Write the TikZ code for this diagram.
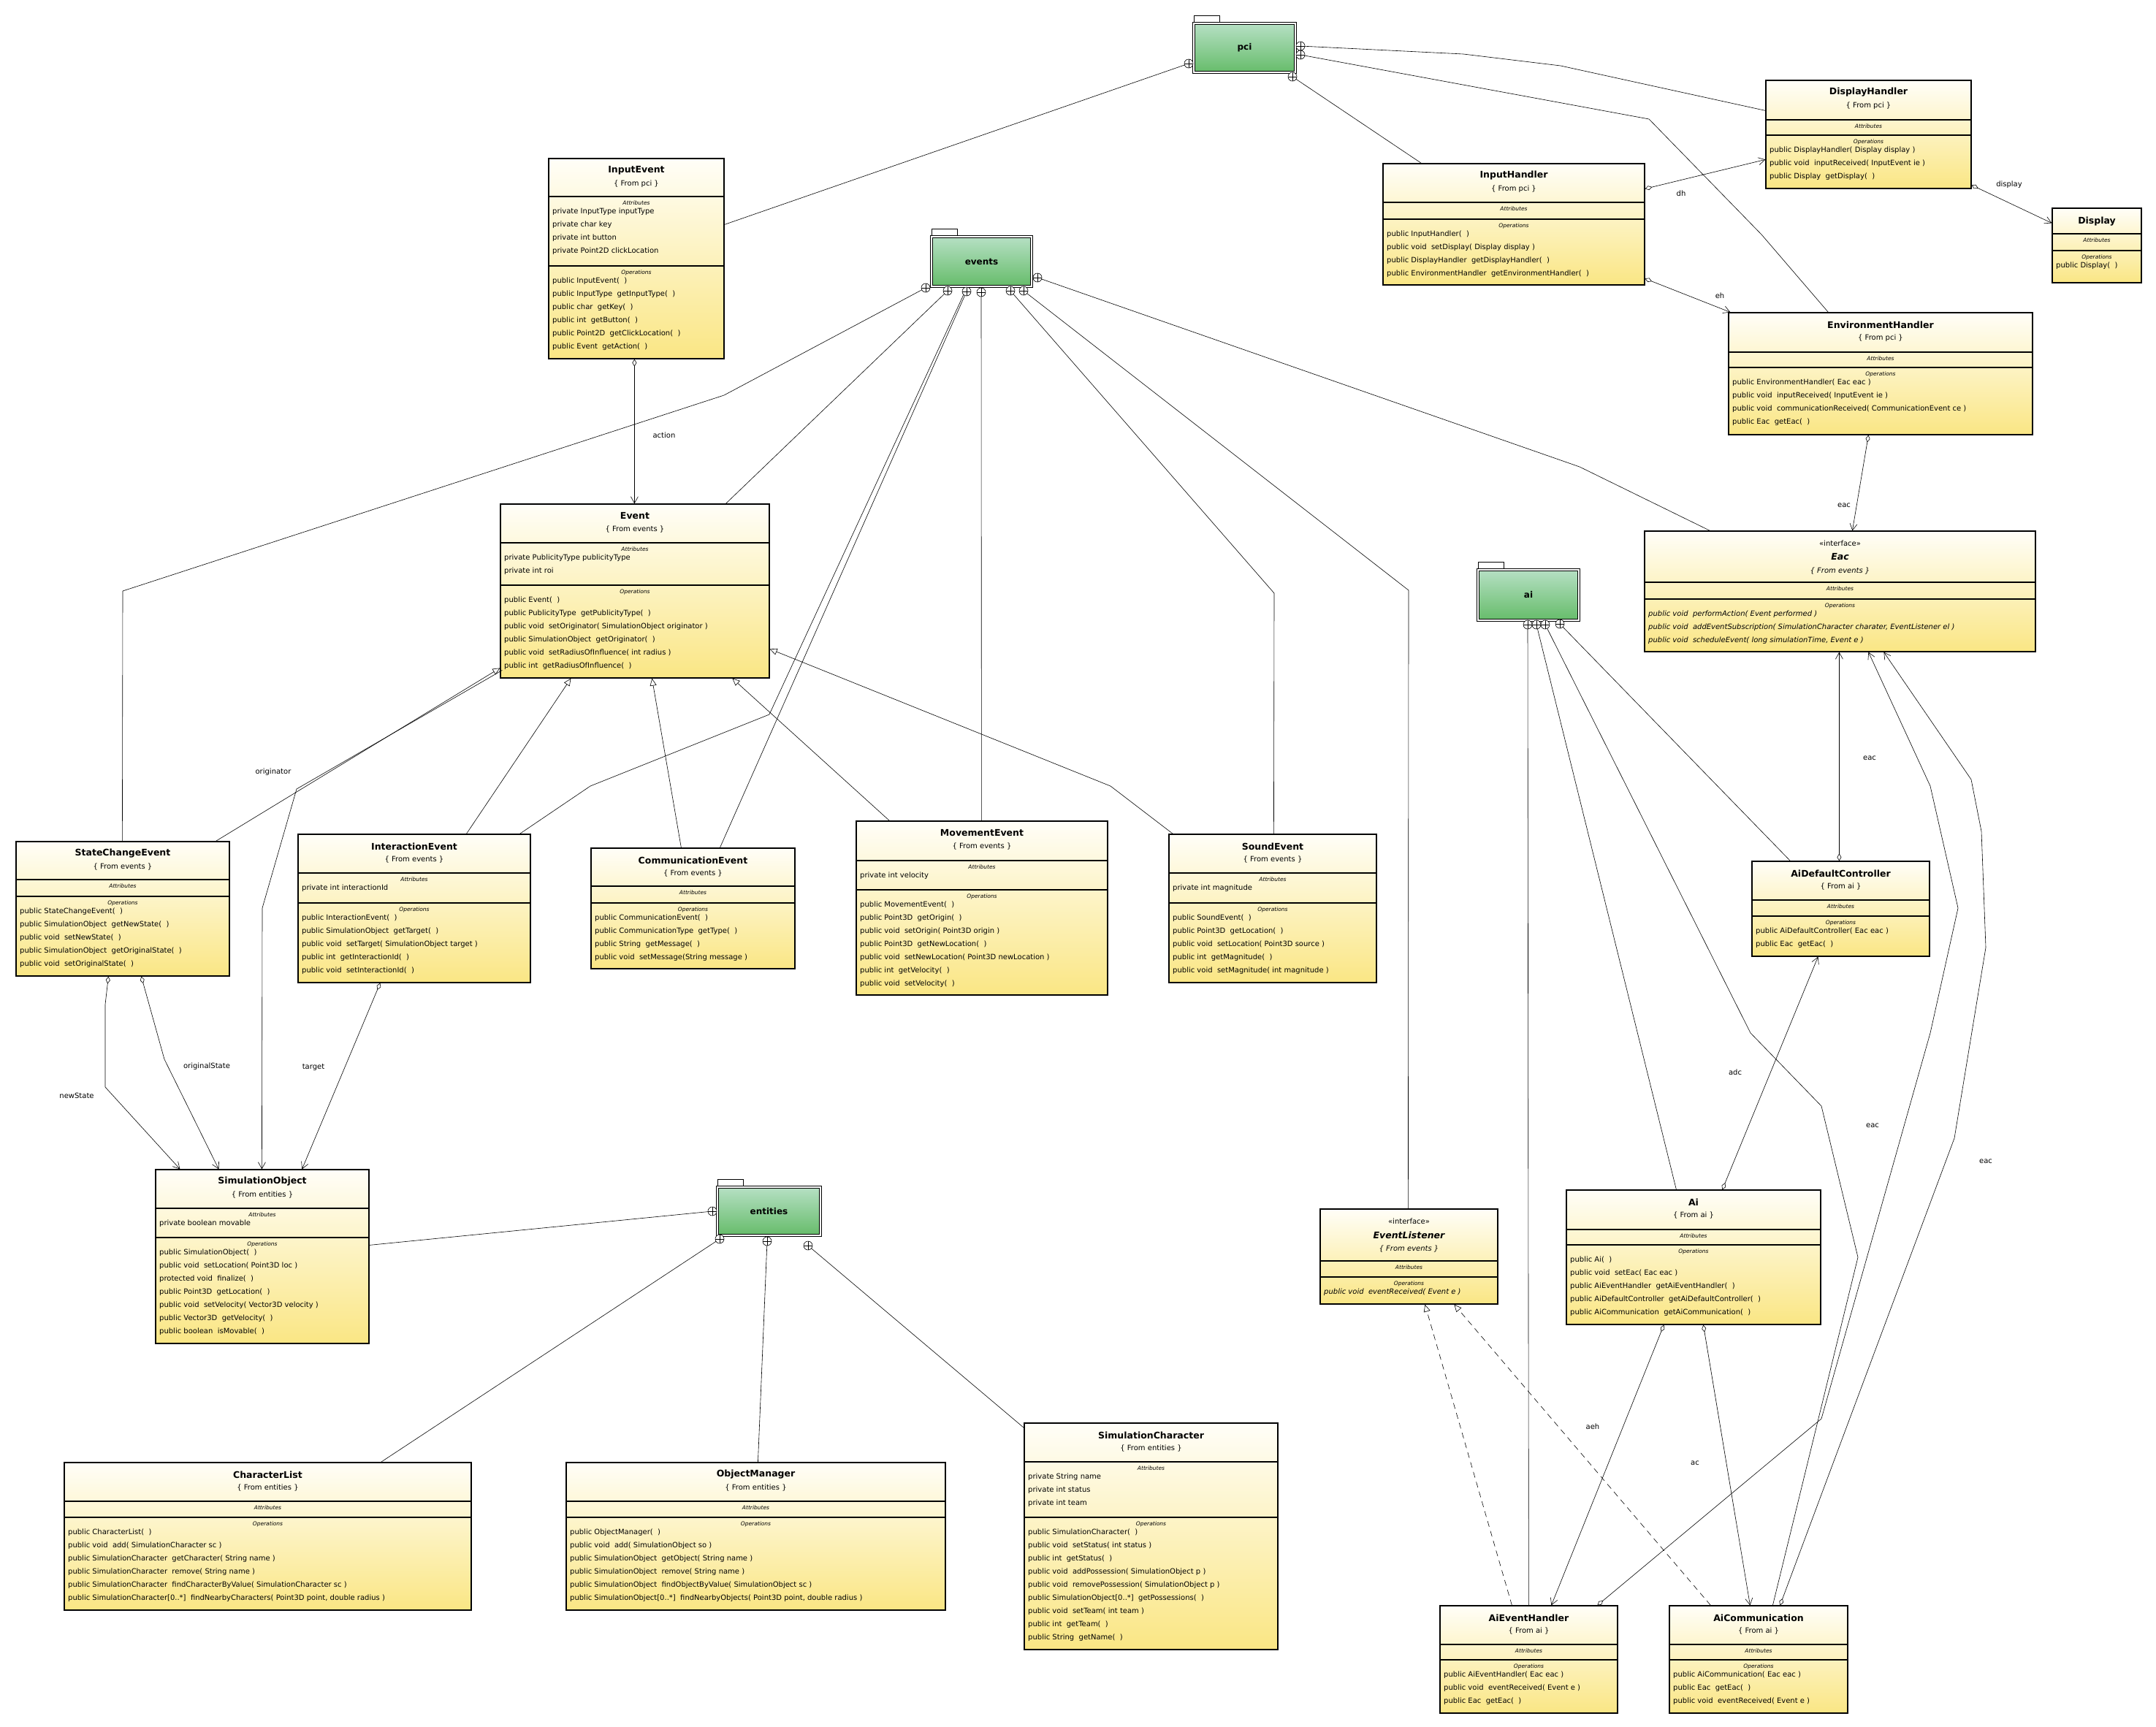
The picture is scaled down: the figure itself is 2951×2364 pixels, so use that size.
\documentclass[tikz,border=0pt]{standalone}
\usepackage{fontspec}
\setmainfont{DejaVu Sans}
\usetikzlibrary{arrows.meta,calc,fit}

\definecolor{umltop}{HTML}{FFFEF8}
\definecolor{umlbot}{HTML}{FAE684}
\definecolor{pkgtop}{HTML}{B6E0C4}
\definecolor{pkgbot}{HTML}{66BC6A}

\tikzset{
  classbox/.style={draw, line width=1.2pt, inner sep=0pt, top color=umltop, bottom color=umlbot},
  pkgbox/.style={draw, line width=0.8pt, double, double distance=1.6pt, inner sep=0pt, top color=pkgtop, bottom color=pkgbot},
  comptitle/.style={font=\fontsize{7.5}{8}\selectfont\itshape, inner sep=0pt},
  members/.style={anchor=north west, align=left, inner sep=0pt, font=\fontsize{10}{18}\selectfont},
  classname/.style={font=\fontsize{12.5}{14}\selectfont\bfseries, inner sep=0pt},
  classfrom/.style={font=\fontsize{10}{12}\selectfont, inner sep=0pt},
  lbl/.style={font=\fontsize{10}{12}\selectfont, inner sep=1pt},
  conn/.style={line width=0.6pt},
  assoc/.style={conn, {Diamond[open,length=10pt,width=6pt]}-{Straight Barb[length=9pt,width=10pt]}},
  navig/.style={conn, -{Straight Barb[length=9pt,width=10pt]}},
  extends/.style={conn, -{Triangle[open,length=10pt,width=9pt]}},
  realizes/.style={extends, dash pattern=on 8pt off 6pt},
  nest/.pic={\draw[fill=white, line width=0.6pt] (0,0) circle (6pt);
             \draw[line width=0.6pt] (-6pt,0) -- (6pt,0) (0,-6pt) -- (0,6pt);}
}

% box: name, x0, y0, x1, y1, attribute line, operation line, attributes, operations
\newcommand\umlbox[9]{%
  \node[classbox, fit={(#2,#3) (#4,#5)}] (#1) {};
  \draw[line width=1.2pt] (#2,#6) -- (#4,#6) (#2,#7) -- (#4,#7);
  \node[comptitle] at ({(#2+#4)/2},#6+9) {Attributes};
  \node[comptitle] at ({(#2+#4)/2},#7+9) {Operations};
  \node[members] at (#2+5,#6+16) {#8};
  \node[members] at (#2+5,#7+16) {#9};
}
\newcommand\umlhead[3]{%
  \node[classname] at ($(#1.north)+(0,17)$) {#2};
  \node[classfrom] at ($(#1.north)+(0,35)$) {\{ From #3 \}};
}
\newcommand\umlihead[3]{%
  \node[classfrom] at ($(#1.north)+(0,17)$) {<<interface>>};
  \node[classname, font=\fontsize{12.5}{14}\selectfont\bfseries\itshape] at ($(#1.north)+(0,36)$) {#2};
  \node[classfrom, font=\fontsize{10}{12}\selectfont\itshape] at ($(#1.north)+(0,55)$) {\{ From #3 \}};
}
\newcommand\umlpkg[6]{%
  \draw[fill=white, line width=0.8pt] (#2,#3-11) rectangle (#2+35,#3-1);
  \node[pkgbox, fit={(#2,#3) (#4,#5)}] (#1) {};
  \node[font=\fontsize{12}{14}\selectfont\bfseries] at (#1) {#6};
}

\begin{document}
\begin{tikzpicture}[x=1pt, y=-1pt]
  \useasboundingbox[fill=white] (0,0) rectangle (2951,2364);

  % packages
  \umlpkg{pci}{1634}{32}{1773}{99}{pci}
  \umlpkg{events}{1275}{324}{1412}{392}{events}
  \umlpkg{ai}{2023}{780}{2161}{849}{ai}
  \umlpkg{entities}{982}{1625}{1123}{1691}{entities}

  % package pci
  \umlbox{InputEvent}{751}{217}{991}{491}{269}{364}
    {private InputType inputType\\ private char key\\ private int button\\ private Point2D clickLocation}
    {public InputEvent(~~)\\ public InputType~ getInputType(~~)\\ public char~ getKey(~~)\\ public int~ getButton(~~)\\ public Point2D~ getClickLocation(~~)\\ public Event~ getAction(~~)}
  \umlhead{InputEvent}{InputEvent}{pci}

  \umlbox{DisplayHandler}{2417}{110}{2698}{258}{164}{185}{}
    {public DisplayHandler( Display display )\\ public void~ inputReceived( InputEvent ie )\\ public Display~ getDisplay(~~)}
  \umlhead{DisplayHandler}{DisplayHandler}{pci}

  \umlbox{InputHandler}{1893}{224}{2251}{390}{277}{300}{}
    {public InputHandler(~~)\\ public void~ setDisplay( Display display )\\ public DisplayHandler~ getDisplayHandler(~~)\\ public EnvironmentHandler~ getEnvironmentHandler(~~)}
  \umlhead{InputHandler}{InputHandler}{pci}

  \umlbox{Display}{2809}{285}{2931}{387}{320}{343}{}
    {public Display(~~)}
  \node[classname] at ($(Display.north)+(0,19)$) {Display};

  \umlbox{EnvironmentHandler}{2366}{428}{2782}{595}{482}{503}{}
    {public EnvironmentHandler( Eac eac )\\ public void~ inputReceived( InputEvent ie )\\ public void~ communicationReceived( CommunicationEvent ce )\\ public Eac~ getEac(~~)}
  \umlhead{EnvironmentHandler}{EnvironmentHandler}{pci}

  % package events
  \umlbox{Event}{685}{690}{1053}{928}{743}{801}
    {private PublicityType publicityType\\ private int roi}
    {public Event(~~)\\ public PublicityType~ getPublicityType(~~)\\ public void~ setOriginator( SimulationObject originator )\\ public SimulationObject~ getOriginator(~~)\\ public void~ setRadiusOfInfluence( int radius )\\ public int~ getRadiusOfInfluence(~~)}
  \umlhead{Event}{Event}{events}

  \umlbox{Eac}{2251}{727}{2786}{892}{797}{820}{}
    {\textit{public void~ performAction( Event performed )}\\ \textit{public void~ addEventSubscription( SimulationCharacter charater, EventListener el )}\\ \textit{public void~ scheduleEvent( long simulationTime, Event e )}}
  \umlihead{Eac}{Eac}{events}

  \umlbox{EventListener}{1807}{1655}{2050}{1785}{1726}{1748}{}
    {\textit{public void~ eventReceived( Event e )}}
  \umlihead{EventListener}{EventListener}{events}

  \umlbox{StateChangeEvent}{22}{1152}{314}{1336}{1204}{1227}{}
    {public StateChangeEvent(~~)\\ public SimulationObject~ getNewState(~~)\\ public void~ setNewState(~~)\\ public SimulationObject~ getOriginalState(~~)\\ public void~ setOriginalState(~~)}
  \umlhead{StateChangeEvent}{StateChangeEvent}{events}

  \umlbox{InteractionEvent}{408}{1142}{726}{1345}{1195}{1236}
    {private int interactionId}
    {public InteractionEvent(~~)\\ public SimulationObject~ getTarget(~~)\\ public void~ setTarget( SimulationObject target )\\ public int~ getInteractionId(~~)\\ public void~ setInteractionId(~~)}
  \umlhead{InteractionEvent}{InteractionEvent}{events}

  \umlbox{CommunicationEvent}{809}{1161}{1088}{1326}{1213}{1236}{}
    {public CommunicationEvent(~~)\\ public CommunicationType~ getType(~~)\\ public String~ getMessage(~~)\\ public void~ setMessage(String message )}
  \umlhead{CommunicationEvent}{CommunicationEvent}{events}

  \umlbox{MovementEvent}{1172}{1124}{1516}{1362}{1178}{1218}
    {private int velocity}
    {public MovementEvent(~~)\\ public Point3D~ getOrigin(~~)\\ public void~ setOrigin( Point3D origin )\\ public Point3D~ getNewLocation(~~)\\ public void~ setNewLocation( Point3D newLocation )\\ public int~ getVelocity(~~)\\ public void~ setVelocity(~~)}
  \umlhead{MovementEvent}{MovementEvent}{events}

  \umlbox{SoundEvent}{1600}{1142}{1884}{1345}{1195}{1236}
    {private int magnitude}
    {public SoundEvent(~~)\\ public Point3D~ getLocation(~~)\\ public void~ setLocation( Point3D source )\\ public int~ getMagnitude(~~)\\ public void~ setMagnitude( int magnitude )}
  \umlhead{SoundEvent}{SoundEvent}{events}

  % package entities
  \umlbox{SimulationObject}{213}{1601}{505}{1839}{1654}{1694}
    {private boolean movable}
    {public SimulationObject(~~)\\ public void~ setLocation( Point3D loc )\\ protected void~ finalize(~~)\\ public Point3D~ getLocation(~~)\\ public void~ setVelocity( Vector3D velocity )\\ public Vector3D~ getVelocity(~~)\\ public boolean~ isMovable(~~)}
  \umlhead{SimulationObject}{SimulationObject}{entities}

  \umlbox{CharacterList}{88}{2002}{645}{2204}{2055}{2077}{}
    {public CharacterList(~~)\\ public void~ add( SimulationCharacter sc )\\ public SimulationCharacter~ getCharacter( String name )\\ public SimulationCharacter~ remove( String name )\\ public SimulationCharacter~ findCharacterByValue( SimulationCharacter sc )\\ public SimulationCharacter[0..*]~ findNearbyCharacters( Point3D point, double radius )}
  \umlhead{CharacterList}{CharacterList}{entities}

  \umlbox{ObjectManager}{775}{2002}{1294}{2204}{2055}{2077}{}
    {public ObjectManager(~~)\\ public void~ add( SimulationObject so )\\ public SimulationObject~ getObject( String name )\\ public SimulationObject~ remove( String name )\\ public SimulationObject~ findObjectByValue( SimulationObject sc )\\ public SimulationObject[0..*]~ findNearbyObjects( Point3D point, double radius )}
  \umlhead{ObjectManager}{ObjectManager}{entities}

  \umlbox{SimulationCharacter}{1402}{1948}{1749}{2258}{2001}{2077}
    {private String name\\ private int status\\ private int team}
    {public SimulationCharacter(~~)\\ public void~ setStatus( int status )\\ public int~ getStatus(~~)\\ public void~ addPossession( SimulationObject p )\\ public void~ removePossession( SimulationObject p )\\ public SimulationObject[0..*]~ getPossessions(~~)\\ public void~ setTeam( int team )\\ public int~ getTeam(~~)\\ public String~ getName(~~)}
  \umlhead{SimulationCharacter}{SimulationCharacter}{entities}

  % package ai
  \umlbox{AiDefaultController}{2398}{1179}{2641}{1309}{1232}{1254}{}
    {public AiDefaultController( Eac eac )\\ public Eac~ getEac(~~)}
  \umlhead{AiDefaultController}{AiDefaultController}{ai}

  \umlbox{Ai}{2144}{1629}{2492}{1813}{1683}{1704}{}
    {public Ai(~~)\\ public void~ setEac( Eac eac )\\ public AiEventHandler~ getAiEventHandler(~~)\\ public AiDefaultController~ getAiDefaultController(~~)\\ public AiCommunication~ getAiCommunication(~~)}
  \umlhead{Ai}{Ai}{ai}

  \umlbox{AiEventHandler}{1971}{2198}{2214}{2345}{2251}{2272}{}
    {public AiEventHandler( Eac eac )\\ public void~ eventReceived( Event e )\\ public Eac~ getEac(~~)}
  \umlhead{AiEventHandler}{AiEventHandler}{ai}

  \umlbox{AiCommunication}{2285}{2198}{2529}{2345}{2251}{2272}{}
    {public AiCommunication( Eac eac )\\ public Eac~ getEac(~~)\\ public void~ eventReceived( Event e )}
  \umlhead{AiCommunication}{AiCommunication}{ai}

  % containment points
  \coordinate (pciL) at (1627,87);
  \coordinate (pciR1) at (1780,63);
  \coordinate (pciR2) at (1780,75);
  \coordinate (pciB) at (1769,105);
  \coordinate (evA) at (1267,394);
  \coordinate (evB) at (1297,398);
  \coordinate (evC) at (1323,399);
  \coordinate (evD) at (1343,400);
  \coordinate (evE) at (1383,398);
  \coordinate (evF) at (1401,398);
  \coordinate (evG) at (1420,380);
  \coordinate (aiA) at (2091,855);
  \coordinate (aiB) at (2103,855);
  \coordinate (aiC) at (2115,855);
  \coordinate (aiD) at (2135,854);
  \coordinate (enL) at (975,1658);
  \coordinate (enA) at (985,1696);
  \coordinate (enB) at (1050,1699);
  \coordinate (enC) at (1106,1705);

  % containment lines
  \draw[conn] (pciL) -- ($(InputEvent.north east)+(0,91)$);
  \draw[conn] (pciR1) -- (2003,74) -- (2136,90) -- ($(DisplayHandler.north west)+(0,42)$);
  \draw[conn] (pciR2) -- (2257,163) -- (2411,321) -- ($(EnvironmentHandler.north west)+(137,0)$);
  \draw[conn] (pciB) -- ($(InputHandler.north west)+(53,0)$);
  \draw[conn] (evA) -- (991,541) -- (168,809) -- ($(StateChangeEvent.north west)+(146,0)$);
  \draw[conn] (evB) -- ($(Event.north west)+(309,0)$);
  \draw[conn] (evC) -- ($(CommunicationEvent.north west)+(177,0)$);
  \draw[conn] ($(evC)+(-3,2)$) -- (1053,978) -- (808,1076) -- ($(InteractionEvent.north west)+(304,0)$);
  \draw[conn] (evD) -- ($(MovementEvent.north west)+(172,0)$);
  \draw[conn] (evE) -- (1744,812) -- ($(SoundEvent.north west)+(144,0)$);
  \draw[conn] (evF) -- (1928,808) -- ($(EventListener.north west)+(121,0)$);
  \draw[conn] (evG) -- (2162,639) -- ($(Eac.north west)+(90,0)$);
  \draw[conn] (aiA) -- ($(AiEventHandler.north west)+(122,0)$);
  \draw[conn] (aiB) -- ($(Ai.north west)+(151,0)$);
  \draw[conn] (aiC) -- (2396,1414) -- (2493,1514) -- (2543,1721) -- ($(AiCommunication.north west)+(142,0)$);
  \draw[conn] (aiD) -- ($(AiDefaultController.north west)+(53,0)$);
  \draw[conn] (enL) -- ($(SimulationObject.north east)+(0,104)$);
  \draw[conn] (enA) -- ($(CharacterList.north west)+(434,0)$);
  \draw[conn] (enB) -- ($(ObjectManager.north west)+(263,0)$);
  \draw[conn] (enC) -- ($(SimulationCharacter.north west)+(0,7)$);
  \foreach \p in {pciL,pciR1,pciR2,pciB,evA,evB,evC,evD,evE,evF,evG,aiA,aiB,aiC,aiD,enL,enA,enB,enC}
    \pic at (\p) {nest};

  % generalizations
  \draw[extends] ($(StateChangeEvent.north west)+(274,0)$) -- ($(Event.north west)+(0,225)$);
  \draw[extends] ($(InteractionEvent.north west)+(231,0)$) -- ($(Event.south west)+(97,0)$);
  \draw[extends] ($(CommunicationEvent.north west)+(124,0)$) -- ($(Event.south west)+(208,0)$);
  \draw[extends] ($(MovementEvent.north west)+(46,0)$) -- ($(Event.south west)+(318,0)$);
  \draw[extends] ($(SoundEvent.north west)+(6,0)$) -- (1520,1076) -- ($(Event.north east)+(0,199)$);
  \draw[realizes] ($(AiEventHandler.north west)+(99,0)$) -- ($(EventListener.south west)+(144,0)$);
  \draw[realizes] ($(AiCommunication.north west)+(57,0)$) -- ($(EventListener.south west)+(184,0)$);

  % associations
  \draw[navig] ($(Event.north west)+(3,228)$) -- (406,1080) -- (359,1243) -- ($(SimulationObject.north west)+(146,0)$);
  \draw[assoc] ($(InputEvent.south west)+(118,0)$) -- ($(Event.north west)+(184,0)$);
  \draw[assoc] ($(InputHandler.north east)+(0,35)$) -- ($(DisplayHandler.north west)+(0,109)$);
  \draw[assoc] ($(InputHandler.north east)+(0,158)$) -- ($(EnvironmentHandler.north west)+(3,0)$);
  \draw[assoc] ($(DisplayHandler.north east)+(0,144)$) -- ($(Display.north west)+(0,21)$);
  \draw[assoc] ($(EnvironmentHandler.south west)+(192,0)$) -- ($(Eac.north west)+(285,0)$);
  \draw[assoc] ($(StateChangeEvent.south west)+(127,0)$) -- (144,1375) -- (144,1488) -- ($(SimulationObject.north west)+(34,0)$);
  \draw[assoc] ($(StateChangeEvent.south west)+(172,0)$) -- (225,1450) -- ($(SimulationObject.north west)+(87,0)$);
  \draw[assoc] ($(InteractionEvent.south west)+(113,0)$) -- ($(SimulationObject.north west)+(201,0)$);
  \draw[assoc] ($(Ai.north west)+(214,0)$) -- ($(AiDefaultController.south west)+(91,0)$);
  \draw[assoc] ($(Ai.south west)+(134,0)$) -- ($(AiEventHandler.north west)+(153,0)$);
  \draw[assoc] ($(Ai.south west)+(188,0)$) -- ($(AiCommunication.north west)+(111,0)$);
  \draw[assoc] ($(AiDefaultController.north west)+(120,0)$) -- ($(Eac.south west)+(267,0)$);
  \draw[assoc] ($(AiEventHandler.north west)+(216,0)$) -- (2493,1942) -- (2642,1414) -- (2680,1243) -- (2642,1076) -- ($(Eac.south west)+(307,0)$);
  \draw[assoc] ($(AiCommunication.north west)+(152,0)$) -- (2675,1558) -- (2718,1297) -- (2712,1138) -- (2698,1067) -- ($(Eac.south west)+(328,0)$);

  % association labels
  \node[lbl] (lOriginator) at (374,1057) {originator};
  \node[lbl] (lAction) at (909,596) {action};
  \node[lbl] (lDh) at (2301,265) {dh};
  \node[lbl] (lEh) at (2354,405) {eh};
  \node[lbl] (lDisplay) at (2750,253) {display};
  \node[lbl] (lEacA) at (2524,692) {eac};
  \node[lbl] (lEacB) at (2559,1038) {eac};
  \node[lbl] (lAdc) at (2375,1468) {adc};
  \node[lbl] (lEacC) at (2563,1541) {eac};
  \node[lbl] (lEacD) at (2718,1590) {eac};
  \node[lbl] (lAeh) at (2180,1953) {aeh};
  \node[lbl] (lAc) at (2320,2003) {ac};
  \node[lbl] (lNewState) at (105,1500) {newState};
  \node[lbl] (lOriginalState) at (283,1460) {originalState};
  \node[lbl] (lTarget) at (429,1461) {target};
\end{tikzpicture}
\end{document}
